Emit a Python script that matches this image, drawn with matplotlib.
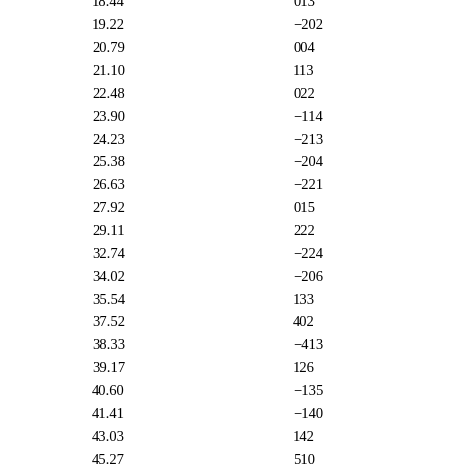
import matplotlib
matplotlib.use("Agg")
import matplotlib.pyplot as plt

two_theta = ["18.44","19.22","20.79","21.10","22.48","23.90","24.23","25.38","26.63","27.92",
             "29.11","32.74","34.02","35.54","37.52","38.33","39.17","40.60","41.41","43.03","45.27"]
hkl = ["013","\u2212202","004","113","022","\u2212114","\u2212213","\u2212204","\u2212221","015",
       "222","\u2212224","\u2212206","133","402","\u2212413","126","\u2212135","\u2212140","142","510"]

W = H = 474
fig = plt.figure(figsize=(4.74, 4.74), dpi=100)
fig.patch.set_facecolor("white")
y0, y1 = 3, 460
n = len(two_theta)
for i, (a, b) in enumerate(zip(two_theta, hkl)):
    y = y0 + (y1 - y0) * i / (n - 1)
    fig.text(92 / W, 1 - y / H, a, ha="left", va="center", fontsize=10.5, family="Liberation Serif")
    fig.text(293 / W, 1 - y / H, b, ha="left", va="center", fontsize=10.5, family="Liberation Serif")
fig.savefig("out.png", dpi=100)
